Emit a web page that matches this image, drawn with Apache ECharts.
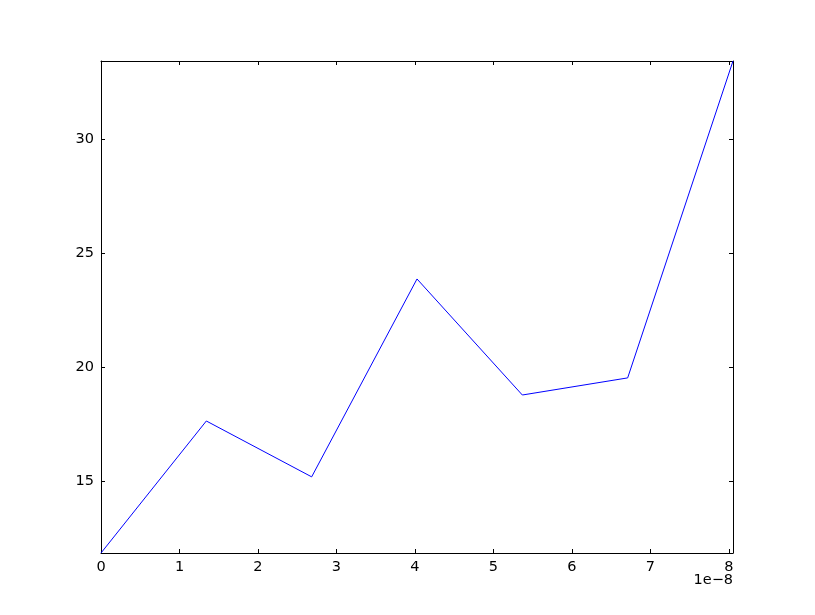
<!DOCTYPE html>
<html>
<head>
<meta charset="utf-8">
<script src="https://cdn.jsdelivr.net/npm/echarts@6/dist/echarts.min.js"></script>
<style>
  html, body { margin: 0; padding: 0; background: #fff; }
  #chart { width: 815px; height: 615px; }
</style>
</head>
<body>
<div id="chart"></div>
<script>
// x values in units of 1e-8
var xValues = [0, 1.342, 2.684, 4.026, 5.368, 6.71, 8.052]
var yValues = [11.84, 17.63, 15.18, 23.86, 18.77, 19.52, 33.42]
var xTicks = [0, 1, 2, 3, 4, 5, 6, 7, 8]
var yTicks = [15, 20, 25, 30]
var xOffsetText = '1e\u22128'

var myChart = echarts.init(document.getElementById('chart'))

var font = 'DejaVu Sans'
var fontSize = 14.5
var lineStyle = { show: true, onZero: false, lineStyle: { color: '#000', width: 1 } }
function ticks(values) {
  return { show: true, inside: true, length: 4, customValues: values, lineStyle: { color: '#000', width: 1 } }
}

var xBase = {
  type: 'value', min: 0, max: 8.052,
  splitLine: { show: false }, axisLine: lineStyle, axisTick: ticks(xTicks)
}
var yBase = {
  type: 'value', min: 11.84, max: 33.42,
  splitLine: { show: false }, axisLine: lineStyle, axisTick: ticks(yTicks)
}

var option = {
  animation: false,
  grid: { left: 101, top: 61, width: 632, height: 492, containLabel: false },
  xAxis: [
    Object.assign({}, xBase, {
      position: 'bottom',
      axisLabel: { color: '#000', fontFamily: font, fontSize: fontSize, margin: 7, customValues: xTicks }
    }),
    Object.assign({}, xBase, { position: 'top', axisLabel: { show: false } })
  ],
  yAxis: [
    Object.assign({}, yBase, {
      position: 'left',
      axisLabel: { color: '#000', fontFamily: font, fontSize: fontSize, margin: 7, customValues: yTicks }
    }),
    Object.assign({}, yBase, { position: 'right', axisLabel: { show: false } })
  ],
  graphic: [{
    type: 'text', right: 82, top: 573,
    style: { text: xOffsetText, fill: '#000', font: fontSize + 'px "DejaVu Sans"' }
  }],
  series: [{
    type: 'line',
    xAxisIndex: 0, yAxisIndex: 0,
    data: xValues.map(function (x, i) { return [x, yValues[i]] }),
    showSymbol: false,
    lineStyle: { color: '#0000ff', width: 1 }
  }]
}

myChart.setOption(option)
</script>
</body>
</html>
